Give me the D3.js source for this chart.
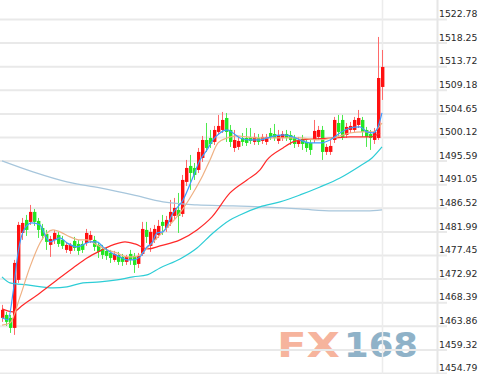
<!DOCTYPE html>
<html>
<head>
<meta charset="utf-8">
<script src="https://cdn.jsdelivr.net/npm/d3@7"></script>
<style>
  html, body { margin: 0; padding: 0; background: #fff; }
  svg { display: block; }
</style>
</head>
<body>
<svg id="chart"></svg>
<script>
// price labels on the right axis
const tickLabels = [1522.78, 1518.25, 1513.72, 1509.18, 1504.65, 1500.12, 1495.59, 1491.05,
  1486.52, 1481.99, 1477.45, 1472.92, 1468.39, 1463.86, 1459.32, 1454.79];

// candles (oldest first)
const opens = [1465.37,1465.95,1465.37,1463.45,1472.67,1481.69,1484.19,1483.81,1485.73,1484.00,
  1482.65,1481.50,1479.39,1480.35,1481.31,1480.35,1478.43,1478.24,1480.16,1479.58,
  1479.58,1479.77,1480.35,1480.35,1479.39,1478.62,1478.24,1477.85,1476.51,1477.47,
  1477.09,1476.13,1477.66,1477.28,1475.74,1477.66,1482.27,1479.20,1480.35,1481.31,
  1483.81,1482.65,1483.81,1484.96,1486.11,1485.34,1491.49,1494.56,1494.17,1493.79,
  1496.09,1499.55,1499.93,1499.17,1501.09,1501.47,1503.77,1501.47,1498.01,1498.21,
  1499.93,1499.93,1500.13,1499.17,1499.93,1499.36,1499.17,1500.89,1500.70,1499.36,
  1499.93,1500.70,1500.51,1499.93,1498.78,1499.74,1499.17,1498.97,1499.55,1500.13,
  1501.47,1497.25,1497.25,1499.55,1502.81,1503.39,1500.51,1501.47,1501.47,1502.43,
  1503.39,1501.47,1500.70,1499.55,1499.93,1509.73];
const highs = [1467.87,1466.53,1465.95,1476.51,1483.81,1484.57,1485.15,1487.07,1486.30,1484.57,
  1483.42,1482.27,1481.12,1482.27,1481.89,1481.12,1479.97,1479.77,1480.93,1480.35,
  1480.16,1482.46,1482.08,1481.12,1479.97,1479.39,1478.81,1478.43,1478.24,1478.05,
  1477.66,1477.47,1478.43,1477.85,1477.85,1483.81,1483.81,1482.65,1483.23,1484.19,
  1485.15,1484.96,1488.03,1488.41,1489.37,1492.83,1495.71,1496.67,1495.13,1498.01,
  1500.32,1502.81,1501.47,1502.24,1504.35,1504.93,1504.73,1502.43,1501.47,1500.13,
  1500.89,1501.85,1501.85,1500.89,1500.70,1500.70,1500.70,1501.85,1502.62,1501.47,
  1501.28,1501.47,1501.28,1500.51,1500.13,1500.51,1499.93,1499.55,1503.39,1502.24,
  1502.24,1498.78,1499.55,1503.97,1504.35,1504.35,1502.81,1503.01,1503.97,1505.31,
  1503.97,1502.05,1501.47,1501.85,1519.33,1516.83];
const lows = [1464.61,1463.84,1462.49,1462.11,1472.09,1480.35,1481.12,1483.23,1483.04,1480.73,
  1480.35,1478.43,1477.09,1479.58,1479.01,1478.62,1477.85,1477.66,1478.24,1477.47,
  1477.85,1479.20,1479.77,1478.24,1476.89,1476.70,1476.51,1475.93,1476.13,1475.55,
  1475.36,1475.55,1475.55,1474.01,1474.97,1477.28,1479.77,1478.05,1479.77,1480.73,
  1481.31,1481.89,1483.04,1484.19,1481.69,1484.77,1490.72,1489.95,1491.87,1493.21,
  1495.33,1497.25,1498.01,1498.59,1500.51,1500.89,1499.17,1498.21,1497.25,1497.63,
  1498.40,1498.40,1498.78,1498.59,1498.59,1498.78,1498.59,1499.55,1499.36,1498.78,
  1499.36,1499.36,1498.59,1498.01,1498.21,1497.63,1497.25,1496.67,1498.97,1499.55,
  1495.71,1496.67,1496.67,1498.97,1500.32,1499.55,1499.93,1500.89,1501.09,1501.85,
  1500.13,1498.21,1497.63,1498.78,1499.55,1507.23];
const closes = [1466.91,1464.61,1463.45,1475.93,1483.23,1483.61,1482.27,1485.73,1483.81,1482.27,
  1481.12,1479.97,1480.54,1481.69,1479.58,1479.20,1479.39,1479.39,1478.81,1478.24,
  1478.43,1481.69,1481.31,1479.01,1478.05,1477.47,1477.28,1476.89,1477.66,1476.13,
  1476.13,1477.09,1476.51,1475.55,1477.28,1482.46,1480.93,1481.89,1482.46,1483.04,
  1483.04,1484.19,1485.73,1486.49,1484.96,1491.87,1494.17,1493.21,1492.83,1497.25,
  1499.55,1498.01,1498.78,1501.47,1502.24,1503.39,1501.09,1499.17,1499.55,1499.36,
  1499.17,1498.97,1499.36,1500.13,1499.17,1500.13,1500.13,1500.13,1499.93,1500.51,
  1500.70,1499.93,1499.55,1498.78,1499.55,1498.78,1498.01,1497.63,1501.28,1501.47,
  1497.25,1498.21,1498.40,1503.39,1501.09,1500.13,1502.05,1502.24,1503.39,1503.77,
  1501.09,1500.13,1499.93,1501.09,1511.45,1513.57];

// moving averages, [candle index, price]
const maFast = [[0,1465.4],[1.5,1465.0],[2.75,1470.17],[4,1477.85],[5.75,1482.65],[7.5,1483.61],
  [9.5,1483.23],[10.75,1481.31],[12,1479.97],[13.25,1480.35],[14.5,1480.73],[16.25,1479.77],
  [18.75,1479.01],[20.25,1479.39],[22,1479.97],[23.75,1479.97],[25.25,1479.01],[27,1478.05],
  [29.5,1477.09],[31.25,1476.51],[32.75,1476.51],[34.5,1477.09],[36.25,1479.01],[37.5,1479.77],
  [38.75,1481.69],[40.25,1481.89],[42.75,1485.53],[45.25,1488.03],[47.75,1492.45],[49.5,1495.71],
  [51.25,1497.63],[52.75,1499.55],[54.5,1500.89],[56.25,1501.47],[57.75,1500.89],[59.5,1499.93],
  [62,1499.55],[64.5,1499.55],[66.25,1499.93],[70.25,1500.51],[72.75,1500.13],[74.5,1499.55],
  [77,1498.97],[79.5,1498.97],[82,1499.55],[84.5,1500.89],[87,1501.85],[89.5,1502.05],
  [91.25,1501.09],[92.75,1500.89],[94,1502.05],[95,1504.73]];
const ma10 = [[0,1464.0],[2,1464.41],[4.5,1469.41],[7,1475.17],[9.5,1479.77],[11.25,1481.69],
  [12.75,1482.27],[14.5,1481.89],[17,1480.93],[19.5,1480.35],[21.25,1480.35],[23.75,1479.39],
  [26.25,1478.43],[28.75,1477.85],[31.25,1477.09],[32.75,1477.09],[34.5,1477.47],[37,1479.39],
  [40.25,1481.89],[44.5,1485.53],[47.75,1489.37],[50.25,1492.83],[52,1495.71],[54,1498.97],
  [56.25,1499.93],[58.75,1500.32],[61.25,1500.13],[64.5,1499.93],[70.25,1499.93],[74.5,1499.93],
  [78.75,1499.55],[82.75,1499.93],[87,1500.89],[90.25,1501.09],[92.75,1501.09],[95,1502.81]];
const ma30 = [[0,1467.1],[2.75,1466.53],[5.25,1467.87],[9.5,1470.17],[13.75,1472.67],[17.75,1474.97],
  [21.25,1476.89],[24.5,1478.24],[27.75,1479.39],[30.75,1479.97],[33.25,1479.58],[36.5,1478.62],
  [39.5,1479.20],[44.5,1480.35],[48.75,1482.27],[52.5,1484.77],[57,1489.37],[61.25,1491.87],
  [64.5,1493.79],[66.25,1495.71],[70.25,1498.01],[72.75,1499.17],[75.25,1499.55],[78.75,1499.74],
  [82.75,1499.93],[87,1500.13],[92,1500.13],[94.5,1500.89]];
const ma60 = [[0,1473.25],[2,1472.09],[6.25,1471.71],[12.75,1471.13],[16.25,1471.33],[20.25,1472.09],
  [24.5,1472.29],[28.75,1472.67],[32.75,1473.25],[36.25,1473.63],[39.5,1474.97],[44.5,1476.70],
  [48.75,1478.81],[52.75,1481.69],[57,1484.19],[59.5,1485.15],[64.5,1486.69],[69.5,1487.65],
  [74.5,1488.99],[79.5,1490.52],[84.5,1492.25],[89.5,1494.56],[92.5,1496.09],[95,1498.21]];
const ma120 = [[0,1495.52],[7.75,1493.41],[16.25,1491.49],[24.5,1490.33],[32.75,1488.99],
  [40.25,1487.65],[48.75,1487.07],[57.75,1486.88],[74.5,1486.30],[82.75,1485.92],[91.25,1485.92],
  [95,1486.11]];

const maColors = ["#3d9bff", "#efb183", "#ff2a2a", "#2dcdd6", "#a7c6dc"];

const width = 480, height = 374;
const plotRight = 437;

const svg = d3.select("#chart")
  .attr("width", width)
  .attr("height", height);

const x = d3.scaleLinear()
  .domain([0, closes.length - 1])
  .range([2, 382]);
const y = d3.scaleLinear()
  .domain([1454.79, 1522.78])
  .range([373, 19]);

// watermark sits under the grid
const wm = svg.append("g").attr("font-family", "DejaVu Sans").attr("font-weight", "bold")
  .attr("font-size", 33);
wm.append("text").attr("x", 277).attr("y", 357).attr("fill", "#f6b49d")
  .attr("textLength", 63).attr("lengthAdjust", "spacingAndGlyphs").text("FX");
wm.append("text").attr("x", 344).attr("y", 357).attr("fill", "#8fb2c8")
  .attr("textLength", 74).attr("lengthAdjust", "spacingAndGlyphs").text("168");

// horizontal grid
const grid = svg.append("g")
  .attr("transform", "translate(447,0)")
  .call(d3.axisLeft(y).tickValues(tickLabels).tickSize(447).tickFormat(""));
grid.select(".domain").remove();
grid.selectAll("line").attr("stroke", "#e9e9e9").attr("stroke-width", 2);

// vertical lines
svg.append("line").attr("x1", 382.5).attr("x2", 382.5).attr("y1", 0).attr("y2", height)
  .attr("stroke", "#ececec").attr("stroke-width", 1.5);
svg.append("line").attr("x1", plotRight + 0.5).attr("x2", plotRight + 0.5).attr("y1", 0).attr("y2", height)
  .attr("stroke", "#e6e6e6").attr("stroke-width", 2);

// price labels
const axis = svg.append("g")
  .attr("transform", `translate(${plotRight},0)`)
  .call(d3.axisRight(y).tickValues(tickLabels).tickSize(0).tickPadding(2)
    .tickFormat(d3.format(".2f")));
axis.select(".domain").remove();
axis.selectAll("text")
  .attr("dy", "-0.25em")
  .attr("font-family", "DejaVu Sans")
  .attr("font-size", 9.3)
  .attr("fill", "#2a2a2a");

// candles
const idx = d3.range(closes.length);
const up = i => closes[i] >= opens[i];
const candle = svg.append("g").selectAll("g")
  .data(idx)
  .join("g");

candle.append("line")
  .attr("x1", i => Math.round(x(i)) + 0.5)
  .attr("x2", i => Math.round(x(i)) + 0.5)
  .attr("y1", i => y(highs[i]))
  .attr("y2", i => y(lows[i]))
  .attr("stroke", i => up(i) ? "#ff6a6a" : "#4eea4e")
  .attr("stroke-width", 1);

candle.append("rect")
  .attr("x", i => Math.round(x(i)) - 1)
  .attr("width", 3.4)
  .attr("y", i => y(Math.max(opens[i], closes[i])))
  .attr("height", i => Math.max(1, Math.abs(y(opens[i]) - y(closes[i]))))
  .attr("fill", i => up(i) ? "#ff1010" : "#22e622");

// moving average lines
const line = d3.line()
  .x(d => x(d[0]))
  .y(d => y(d[1]))
  .curve(d3.curveMonotoneX);

[ma120, ma60, ma30, ma10, maFast].forEach((s, k) => {
  svg.append("path")
    .datum(s)
    .attr("d", line)
    .attr("fill", "none")
    .attr("stroke", maColors[4 - k])
    .attr("stroke-width", 1.2);
});
</script>
</body>
</html>
